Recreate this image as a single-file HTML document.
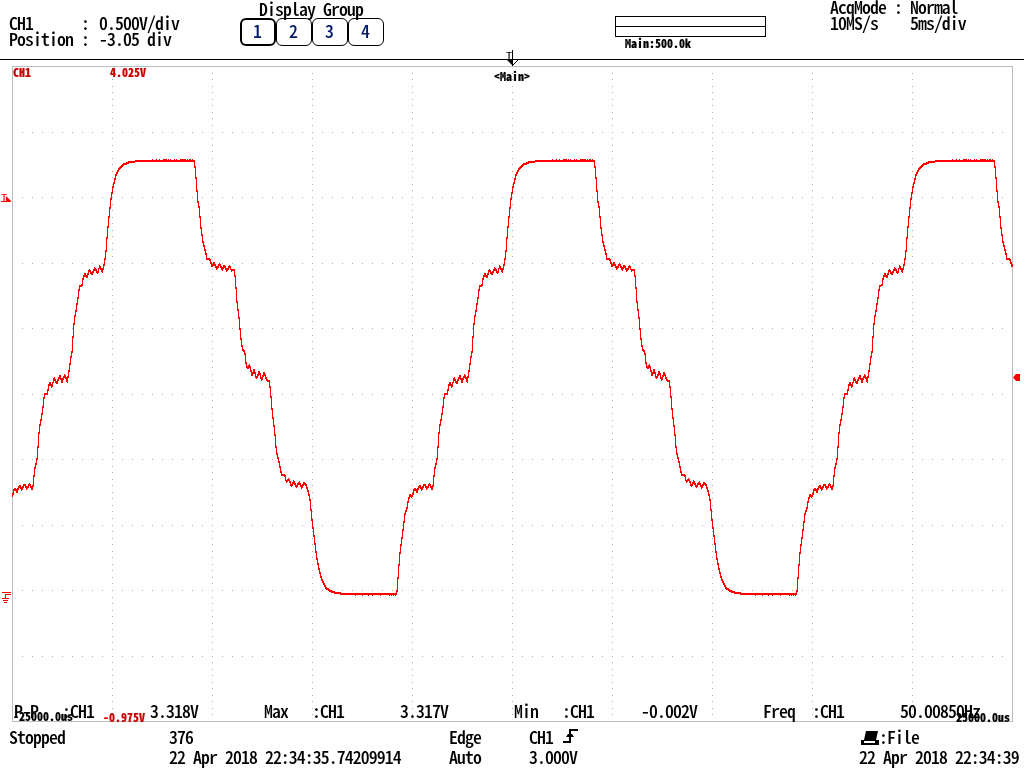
<!DOCTYPE html>
<html><head><meta charset="utf-8"><style>
html,body{margin:0;padding:0;background:#fff;width:1024px;height:768px;overflow:hidden;position:relative}
.b{position:absolute;white-space:pre;font-family:'Noto Sans CJK JP',sans-serif;font-feature-settings:'hwid' 1;font-size:17.8px;letter-spacing:-0.9px;line-height:16px;font-weight:500}
.s{position:absolute;white-space:pre;font-family:'Noto Sans CJK JP',sans-serif;font-feature-settings:'hwid' 1;font-size:12px;line-height:12px;font-weight:900}
.t{position:absolute;white-space:pre;font-family:'Noto Sans CJK JP',sans-serif;font-feature-settings:'hwid' 1;font-size:9.5px;line-height:10px;font-weight:400;transform:scaleX(1.3);transform-origin:0 0}
</style></head><body>
<svg width="1024" height="768" viewBox="0 0 1024 768" style="position:absolute;left:0;top:0">
<rect x="0" y="59" width="1024" height="1" fill="#000"/>
<rect x="12.5" y="66.5" width="1000" height="655" fill="none" stroke="#bcbcbc" stroke-width="1"/>
<path d="M22 132h1v1h-1zM22 197h1v1h-1zM22 263h1v1h-1zM22 328h1v1h-1zM22 394h1v1h-1zM22 459h1v1h-1zM22 525h1v1h-1zM22 590h1v1h-1zM22 656h1v1h-1zM32 132h1v1h-1zM32 197h1v1h-1zM32 263h1v1h-1zM32 328h1v1h-1zM32 394h1v1h-1zM32 459h1v1h-1zM32 525h1v1h-1zM32 590h1v1h-1zM32 656h1v1h-1zM42 132h1v1h-1zM42 197h1v1h-1zM42 263h1v1h-1zM42 328h1v1h-1zM42 394h1v1h-1zM42 459h1v1h-1zM42 525h1v1h-1zM42 590h1v1h-1zM42 656h1v1h-1zM52 132h1v1h-1zM52 197h1v1h-1zM52 263h1v1h-1zM52 328h1v1h-1zM52 394h1v1h-1zM52 459h1v1h-1zM52 525h1v1h-1zM52 590h1v1h-1zM52 656h1v1h-1zM62 132h1v1h-1zM62 197h1v1h-1zM62 263h1v1h-1zM62 328h1v1h-1zM62 394h1v1h-1zM62 459h1v1h-1zM62 525h1v1h-1zM62 590h1v1h-1zM62 656h1v1h-1zM72 132h1v1h-1zM72 197h1v1h-1zM72 263h1v1h-1zM72 328h1v1h-1zM72 394h1v1h-1zM72 459h1v1h-1zM72 525h1v1h-1zM72 590h1v1h-1zM72 656h1v1h-1zM82 132h1v1h-1zM82 197h1v1h-1zM82 263h1v1h-1zM82 328h1v1h-1zM82 394h1v1h-1zM82 459h1v1h-1zM82 525h1v1h-1zM82 590h1v1h-1zM82 656h1v1h-1zM92 132h1v1h-1zM92 197h1v1h-1zM92 263h1v1h-1zM92 328h1v1h-1zM92 394h1v1h-1zM92 459h1v1h-1zM92 525h1v1h-1zM92 590h1v1h-1zM92 656h1v1h-1zM102 132h1v1h-1zM102 197h1v1h-1zM102 263h1v1h-1zM102 328h1v1h-1zM102 394h1v1h-1zM102 459h1v1h-1zM102 525h1v1h-1zM102 590h1v1h-1zM102 656h1v1h-1zM112 73h1v1h-1zM112 79h1v1h-1zM112 86h1v1h-1zM112 92h1v1h-1zM112 99h1v1h-1zM112 105h1v1h-1zM112 112h1v1h-1zM112 118h1v1h-1zM112 125h1v1h-1zM112 132h1v1h-1zM112 138h1v1h-1zM112 145h1v1h-1zM112 151h1v1h-1zM112 158h1v1h-1zM112 164h1v1h-1zM112 171h1v1h-1zM112 177h1v1h-1zM112 184h1v1h-1zM112 190h1v1h-1zM112 197h1v1h-1zM112 204h1v1h-1zM112 210h1v1h-1zM112 217h1v1h-1zM112 223h1v1h-1zM112 230h1v1h-1zM112 236h1v1h-1zM112 243h1v1h-1zM112 249h1v1h-1zM112 256h1v1h-1zM112 263h1v1h-1zM112 269h1v1h-1zM112 276h1v1h-1zM112 282h1v1h-1zM112 289h1v1h-1zM112 295h1v1h-1zM112 302h1v1h-1zM112 308h1v1h-1zM112 315h1v1h-1zM112 321h1v1h-1zM112 328h1v1h-1zM112 335h1v1h-1zM112 341h1v1h-1zM112 348h1v1h-1zM112 354h1v1h-1zM112 361h1v1h-1zM112 367h1v1h-1zM112 374h1v1h-1zM112 380h1v1h-1zM112 387h1v1h-1zM112 394h1v1h-1zM112 400h1v1h-1zM112 407h1v1h-1zM112 413h1v1h-1zM112 420h1v1h-1zM112 426h1v1h-1zM112 433h1v1h-1zM112 439h1v1h-1zM112 446h1v1h-1zM112 452h1v1h-1zM112 459h1v1h-1zM112 466h1v1h-1zM112 472h1v1h-1zM112 479h1v1h-1zM112 485h1v1h-1zM112 492h1v1h-1zM112 498h1v1h-1zM112 505h1v1h-1zM112 511h1v1h-1zM112 518h1v1h-1zM112 525h1v1h-1zM112 531h1v1h-1zM112 538h1v1h-1zM112 544h1v1h-1zM112 551h1v1h-1zM112 557h1v1h-1zM112 564h1v1h-1zM112 570h1v1h-1zM112 577h1v1h-1zM112 583h1v1h-1zM112 590h1v1h-1zM112 597h1v1h-1zM112 603h1v1h-1zM112 610h1v1h-1zM112 616h1v1h-1zM112 623h1v1h-1zM112 629h1v1h-1zM112 636h1v1h-1zM112 642h1v1h-1zM112 649h1v1h-1zM112 656h1v1h-1zM112 662h1v1h-1zM112 669h1v1h-1zM112 675h1v1h-1zM112 682h1v1h-1zM112 688h1v1h-1zM112 695h1v1h-1zM112 701h1v1h-1zM112 708h1v1h-1zM112 714h1v1h-1zM122 132h1v1h-1zM122 197h1v1h-1zM122 263h1v1h-1zM122 328h1v1h-1zM122 394h1v1h-1zM122 459h1v1h-1zM122 525h1v1h-1zM122 590h1v1h-1zM122 656h1v1h-1zM132 132h1v1h-1zM132 197h1v1h-1zM132 263h1v1h-1zM132 328h1v1h-1zM132 394h1v1h-1zM132 459h1v1h-1zM132 525h1v1h-1zM132 590h1v1h-1zM132 656h1v1h-1zM142 132h1v1h-1zM142 197h1v1h-1zM142 263h1v1h-1zM142 328h1v1h-1zM142 394h1v1h-1zM142 459h1v1h-1zM142 525h1v1h-1zM142 590h1v1h-1zM142 656h1v1h-1zM152 132h1v1h-1zM152 197h1v1h-1zM152 263h1v1h-1zM152 328h1v1h-1zM152 394h1v1h-1zM152 459h1v1h-1zM152 525h1v1h-1zM152 590h1v1h-1zM152 656h1v1h-1zM162 132h1v1h-1zM162 197h1v1h-1zM162 263h1v1h-1zM162 328h1v1h-1zM162 394h1v1h-1zM162 459h1v1h-1zM162 525h1v1h-1zM162 590h1v1h-1zM162 656h1v1h-1zM172 132h1v1h-1zM172 197h1v1h-1zM172 263h1v1h-1zM172 328h1v1h-1zM172 394h1v1h-1zM172 459h1v1h-1zM172 525h1v1h-1zM172 590h1v1h-1zM172 656h1v1h-1zM182 132h1v1h-1zM182 197h1v1h-1zM182 263h1v1h-1zM182 328h1v1h-1zM182 394h1v1h-1zM182 459h1v1h-1zM182 525h1v1h-1zM182 590h1v1h-1zM182 656h1v1h-1zM192 132h1v1h-1zM192 197h1v1h-1zM192 263h1v1h-1zM192 328h1v1h-1zM192 394h1v1h-1zM192 459h1v1h-1zM192 525h1v1h-1zM192 590h1v1h-1zM192 656h1v1h-1zM202 132h1v1h-1zM202 197h1v1h-1zM202 263h1v1h-1zM202 328h1v1h-1zM202 394h1v1h-1zM202 459h1v1h-1zM202 525h1v1h-1zM202 590h1v1h-1zM202 656h1v1h-1zM212 73h1v1h-1zM212 79h1v1h-1zM212 86h1v1h-1zM212 92h1v1h-1zM212 99h1v1h-1zM212 105h1v1h-1zM212 112h1v1h-1zM212 118h1v1h-1zM212 125h1v1h-1zM212 132h1v1h-1zM212 138h1v1h-1zM212 145h1v1h-1zM212 151h1v1h-1zM212 158h1v1h-1zM212 164h1v1h-1zM212 171h1v1h-1zM212 177h1v1h-1zM212 184h1v1h-1zM212 190h1v1h-1zM212 197h1v1h-1zM212 204h1v1h-1zM212 210h1v1h-1zM212 217h1v1h-1zM212 223h1v1h-1zM212 230h1v1h-1zM212 236h1v1h-1zM212 243h1v1h-1zM212 249h1v1h-1zM212 256h1v1h-1zM212 263h1v1h-1zM212 269h1v1h-1zM212 276h1v1h-1zM212 282h1v1h-1zM212 289h1v1h-1zM212 295h1v1h-1zM212 302h1v1h-1zM212 308h1v1h-1zM212 315h1v1h-1zM212 321h1v1h-1zM212 328h1v1h-1zM212 335h1v1h-1zM212 341h1v1h-1zM212 348h1v1h-1zM212 354h1v1h-1zM212 361h1v1h-1zM212 367h1v1h-1zM212 374h1v1h-1zM212 380h1v1h-1zM212 387h1v1h-1zM212 394h1v1h-1zM212 400h1v1h-1zM212 407h1v1h-1zM212 413h1v1h-1zM212 420h1v1h-1zM212 426h1v1h-1zM212 433h1v1h-1zM212 439h1v1h-1zM212 446h1v1h-1zM212 452h1v1h-1zM212 459h1v1h-1zM212 466h1v1h-1zM212 472h1v1h-1zM212 479h1v1h-1zM212 485h1v1h-1zM212 492h1v1h-1zM212 498h1v1h-1zM212 505h1v1h-1zM212 511h1v1h-1zM212 518h1v1h-1zM212 525h1v1h-1zM212 531h1v1h-1zM212 538h1v1h-1zM212 544h1v1h-1zM212 551h1v1h-1zM212 557h1v1h-1zM212 564h1v1h-1zM212 570h1v1h-1zM212 577h1v1h-1zM212 583h1v1h-1zM212 590h1v1h-1zM212 597h1v1h-1zM212 603h1v1h-1zM212 610h1v1h-1zM212 616h1v1h-1zM212 623h1v1h-1zM212 629h1v1h-1zM212 636h1v1h-1zM212 642h1v1h-1zM212 649h1v1h-1zM212 656h1v1h-1zM212 662h1v1h-1zM212 669h1v1h-1zM212 675h1v1h-1zM212 682h1v1h-1zM212 688h1v1h-1zM212 695h1v1h-1zM212 701h1v1h-1zM212 708h1v1h-1zM212 714h1v1h-1zM222 132h1v1h-1zM222 197h1v1h-1zM222 263h1v1h-1zM222 328h1v1h-1zM222 394h1v1h-1zM222 459h1v1h-1zM222 525h1v1h-1zM222 590h1v1h-1zM222 656h1v1h-1zM232 132h1v1h-1zM232 197h1v1h-1zM232 263h1v1h-1zM232 328h1v1h-1zM232 394h1v1h-1zM232 459h1v1h-1zM232 525h1v1h-1zM232 590h1v1h-1zM232 656h1v1h-1zM242 132h1v1h-1zM242 197h1v1h-1zM242 263h1v1h-1zM242 328h1v1h-1zM242 394h1v1h-1zM242 459h1v1h-1zM242 525h1v1h-1zM242 590h1v1h-1zM242 656h1v1h-1zM252 132h1v1h-1zM252 197h1v1h-1zM252 263h1v1h-1zM252 328h1v1h-1zM252 394h1v1h-1zM252 459h1v1h-1zM252 525h1v1h-1zM252 590h1v1h-1zM252 656h1v1h-1zM262 132h1v1h-1zM262 197h1v1h-1zM262 263h1v1h-1zM262 328h1v1h-1zM262 394h1v1h-1zM262 459h1v1h-1zM262 525h1v1h-1zM262 590h1v1h-1zM262 656h1v1h-1zM272 132h1v1h-1zM272 197h1v1h-1zM272 263h1v1h-1zM272 328h1v1h-1zM272 394h1v1h-1zM272 459h1v1h-1zM272 525h1v1h-1zM272 590h1v1h-1zM272 656h1v1h-1zM282 132h1v1h-1zM282 197h1v1h-1zM282 263h1v1h-1zM282 328h1v1h-1zM282 394h1v1h-1zM282 459h1v1h-1zM282 525h1v1h-1zM282 590h1v1h-1zM282 656h1v1h-1zM292 132h1v1h-1zM292 197h1v1h-1zM292 263h1v1h-1zM292 328h1v1h-1zM292 394h1v1h-1zM292 459h1v1h-1zM292 525h1v1h-1zM292 590h1v1h-1zM292 656h1v1h-1zM302 132h1v1h-1zM302 197h1v1h-1zM302 263h1v1h-1zM302 328h1v1h-1zM302 394h1v1h-1zM302 459h1v1h-1zM302 525h1v1h-1zM302 590h1v1h-1zM302 656h1v1h-1zM312 73h1v1h-1zM312 79h1v1h-1zM312 86h1v1h-1zM312 92h1v1h-1zM312 99h1v1h-1zM312 105h1v1h-1zM312 112h1v1h-1zM312 118h1v1h-1zM312 125h1v1h-1zM312 132h1v1h-1zM312 138h1v1h-1zM312 145h1v1h-1zM312 151h1v1h-1zM312 158h1v1h-1zM312 164h1v1h-1zM312 171h1v1h-1zM312 177h1v1h-1zM312 184h1v1h-1zM312 190h1v1h-1zM312 197h1v1h-1zM312 204h1v1h-1zM312 210h1v1h-1zM312 217h1v1h-1zM312 223h1v1h-1zM312 230h1v1h-1zM312 236h1v1h-1zM312 243h1v1h-1zM312 249h1v1h-1zM312 256h1v1h-1zM312 263h1v1h-1zM312 269h1v1h-1zM312 276h1v1h-1zM312 282h1v1h-1zM312 289h1v1h-1zM312 295h1v1h-1zM312 302h1v1h-1zM312 308h1v1h-1zM312 315h1v1h-1zM312 321h1v1h-1zM312 328h1v1h-1zM312 335h1v1h-1zM312 341h1v1h-1zM312 348h1v1h-1zM312 354h1v1h-1zM312 361h1v1h-1zM312 367h1v1h-1zM312 374h1v1h-1zM312 380h1v1h-1zM312 387h1v1h-1zM312 394h1v1h-1zM312 400h1v1h-1zM312 407h1v1h-1zM312 413h1v1h-1zM312 420h1v1h-1zM312 426h1v1h-1zM312 433h1v1h-1zM312 439h1v1h-1zM312 446h1v1h-1zM312 452h1v1h-1zM312 459h1v1h-1zM312 466h1v1h-1zM312 472h1v1h-1zM312 479h1v1h-1zM312 485h1v1h-1zM312 492h1v1h-1zM312 498h1v1h-1zM312 505h1v1h-1zM312 511h1v1h-1zM312 518h1v1h-1zM312 525h1v1h-1zM312 531h1v1h-1zM312 538h1v1h-1zM312 544h1v1h-1zM312 551h1v1h-1zM312 557h1v1h-1zM312 564h1v1h-1zM312 570h1v1h-1zM312 577h1v1h-1zM312 583h1v1h-1zM312 590h1v1h-1zM312 597h1v1h-1zM312 603h1v1h-1zM312 610h1v1h-1zM312 616h1v1h-1zM312 623h1v1h-1zM312 629h1v1h-1zM312 636h1v1h-1zM312 642h1v1h-1zM312 649h1v1h-1zM312 656h1v1h-1zM312 662h1v1h-1zM312 669h1v1h-1zM312 675h1v1h-1zM312 682h1v1h-1zM312 688h1v1h-1zM312 695h1v1h-1zM312 701h1v1h-1zM312 708h1v1h-1zM312 714h1v1h-1zM322 132h1v1h-1zM322 197h1v1h-1zM322 263h1v1h-1zM322 328h1v1h-1zM322 394h1v1h-1zM322 459h1v1h-1zM322 525h1v1h-1zM322 590h1v1h-1zM322 656h1v1h-1zM332 132h1v1h-1zM332 197h1v1h-1zM332 263h1v1h-1zM332 328h1v1h-1zM332 394h1v1h-1zM332 459h1v1h-1zM332 525h1v1h-1zM332 590h1v1h-1zM332 656h1v1h-1zM342 132h1v1h-1zM342 197h1v1h-1zM342 263h1v1h-1zM342 328h1v1h-1zM342 394h1v1h-1zM342 459h1v1h-1zM342 525h1v1h-1zM342 590h1v1h-1zM342 656h1v1h-1zM352 132h1v1h-1zM352 197h1v1h-1zM352 263h1v1h-1zM352 328h1v1h-1zM352 394h1v1h-1zM352 459h1v1h-1zM352 525h1v1h-1zM352 590h1v1h-1zM352 656h1v1h-1zM362 132h1v1h-1zM362 197h1v1h-1zM362 263h1v1h-1zM362 328h1v1h-1zM362 394h1v1h-1zM362 459h1v1h-1zM362 525h1v1h-1zM362 590h1v1h-1zM362 656h1v1h-1zM372 132h1v1h-1zM372 197h1v1h-1zM372 263h1v1h-1zM372 328h1v1h-1zM372 394h1v1h-1zM372 459h1v1h-1zM372 525h1v1h-1zM372 590h1v1h-1zM372 656h1v1h-1zM382 132h1v1h-1zM382 197h1v1h-1zM382 263h1v1h-1zM382 328h1v1h-1zM382 394h1v1h-1zM382 459h1v1h-1zM382 525h1v1h-1zM382 590h1v1h-1zM382 656h1v1h-1zM392 132h1v1h-1zM392 197h1v1h-1zM392 263h1v1h-1zM392 328h1v1h-1zM392 394h1v1h-1zM392 459h1v1h-1zM392 525h1v1h-1zM392 590h1v1h-1zM392 656h1v1h-1zM402 132h1v1h-1zM402 197h1v1h-1zM402 263h1v1h-1zM402 328h1v1h-1zM402 394h1v1h-1zM402 459h1v1h-1zM402 525h1v1h-1zM402 590h1v1h-1zM402 656h1v1h-1zM412 73h1v1h-1zM412 79h1v1h-1zM412 86h1v1h-1zM412 92h1v1h-1zM412 99h1v1h-1zM412 105h1v1h-1zM412 112h1v1h-1zM412 118h1v1h-1zM412 125h1v1h-1zM412 132h1v1h-1zM412 138h1v1h-1zM412 145h1v1h-1zM412 151h1v1h-1zM412 158h1v1h-1zM412 164h1v1h-1zM412 171h1v1h-1zM412 177h1v1h-1zM412 184h1v1h-1zM412 190h1v1h-1zM412 197h1v1h-1zM412 204h1v1h-1zM412 210h1v1h-1zM412 217h1v1h-1zM412 223h1v1h-1zM412 230h1v1h-1zM412 236h1v1h-1zM412 243h1v1h-1zM412 249h1v1h-1zM412 256h1v1h-1zM412 263h1v1h-1zM412 269h1v1h-1zM412 276h1v1h-1zM412 282h1v1h-1zM412 289h1v1h-1zM412 295h1v1h-1zM412 302h1v1h-1zM412 308h1v1h-1zM412 315h1v1h-1zM412 321h1v1h-1zM412 328h1v1h-1zM412 335h1v1h-1zM412 341h1v1h-1zM412 348h1v1h-1zM412 354h1v1h-1zM412 361h1v1h-1zM412 367h1v1h-1zM412 374h1v1h-1zM412 380h1v1h-1zM412 387h1v1h-1zM412 394h1v1h-1zM412 400h1v1h-1zM412 407h1v1h-1zM412 413h1v1h-1zM412 420h1v1h-1zM412 426h1v1h-1zM412 433h1v1h-1zM412 439h1v1h-1zM412 446h1v1h-1zM412 452h1v1h-1zM412 459h1v1h-1zM412 466h1v1h-1zM412 472h1v1h-1zM412 479h1v1h-1zM412 485h1v1h-1zM412 492h1v1h-1zM412 498h1v1h-1zM412 505h1v1h-1zM412 511h1v1h-1zM412 518h1v1h-1zM412 525h1v1h-1zM412 531h1v1h-1zM412 538h1v1h-1zM412 544h1v1h-1zM412 551h1v1h-1zM412 557h1v1h-1zM412 564h1v1h-1zM412 570h1v1h-1zM412 577h1v1h-1zM412 583h1v1h-1zM412 590h1v1h-1zM412 597h1v1h-1zM412 603h1v1h-1zM412 610h1v1h-1zM412 616h1v1h-1zM412 623h1v1h-1zM412 629h1v1h-1zM412 636h1v1h-1zM412 642h1v1h-1zM412 649h1v1h-1zM412 656h1v1h-1zM412 662h1v1h-1zM412 669h1v1h-1zM412 675h1v1h-1zM412 682h1v1h-1zM412 688h1v1h-1zM412 695h1v1h-1zM412 701h1v1h-1zM412 708h1v1h-1zM412 714h1v1h-1zM422 132h1v1h-1zM422 197h1v1h-1zM422 263h1v1h-1zM422 328h1v1h-1zM422 394h1v1h-1zM422 459h1v1h-1zM422 525h1v1h-1zM422 590h1v1h-1zM422 656h1v1h-1zM432 132h1v1h-1zM432 197h1v1h-1zM432 263h1v1h-1zM432 328h1v1h-1zM432 394h1v1h-1zM432 459h1v1h-1zM432 525h1v1h-1zM432 590h1v1h-1zM432 656h1v1h-1zM442 132h1v1h-1zM442 197h1v1h-1zM442 263h1v1h-1zM442 328h1v1h-1zM442 394h1v1h-1zM442 459h1v1h-1zM442 525h1v1h-1zM442 590h1v1h-1zM442 656h1v1h-1zM452 132h1v1h-1zM452 197h1v1h-1zM452 263h1v1h-1zM452 328h1v1h-1zM452 394h1v1h-1zM452 459h1v1h-1zM452 525h1v1h-1zM452 590h1v1h-1zM452 656h1v1h-1zM462 132h1v1h-1zM462 197h1v1h-1zM462 263h1v1h-1zM462 328h1v1h-1zM462 394h1v1h-1zM462 459h1v1h-1zM462 525h1v1h-1zM462 590h1v1h-1zM462 656h1v1h-1zM472 132h1v1h-1zM472 197h1v1h-1zM472 263h1v1h-1zM472 328h1v1h-1zM472 394h1v1h-1zM472 459h1v1h-1zM472 525h1v1h-1zM472 590h1v1h-1zM472 656h1v1h-1zM482 132h1v1h-1zM482 197h1v1h-1zM482 263h1v1h-1zM482 328h1v1h-1zM482 394h1v1h-1zM482 459h1v1h-1zM482 525h1v1h-1zM482 590h1v1h-1zM482 656h1v1h-1zM492 132h1v1h-1zM492 197h1v1h-1zM492 263h1v1h-1zM492 328h1v1h-1zM492 394h1v1h-1zM492 459h1v1h-1zM492 525h1v1h-1zM492 590h1v1h-1zM492 656h1v1h-1zM502 132h1v1h-1zM502 197h1v1h-1zM502 263h1v1h-1zM502 328h1v1h-1zM502 394h1v1h-1zM502 459h1v1h-1zM502 525h1v1h-1zM502 590h1v1h-1zM502 656h1v1h-1zM512 73h1v1h-1zM512 79h1v1h-1zM512 86h1v1h-1zM512 92h1v1h-1zM512 99h1v1h-1zM512 105h1v1h-1zM512 112h1v1h-1zM512 118h1v1h-1zM512 125h1v1h-1zM512 132h1v1h-1zM512 138h1v1h-1zM512 145h1v1h-1zM512 151h1v1h-1zM512 158h1v1h-1zM512 164h1v1h-1zM512 171h1v1h-1zM512 177h1v1h-1zM512 184h1v1h-1zM512 190h1v1h-1zM512 197h1v1h-1zM512 204h1v1h-1zM512 210h1v1h-1zM512 217h1v1h-1zM512 223h1v1h-1zM512 230h1v1h-1zM512 236h1v1h-1zM512 243h1v1h-1zM512 249h1v1h-1zM512 256h1v1h-1zM512 263h1v1h-1zM512 269h1v1h-1zM512 276h1v1h-1zM512 282h1v1h-1zM512 289h1v1h-1zM512 295h1v1h-1zM512 302h1v1h-1zM512 308h1v1h-1zM512 315h1v1h-1zM512 321h1v1h-1zM512 328h1v1h-1zM512 335h1v1h-1zM512 341h1v1h-1zM512 348h1v1h-1zM512 354h1v1h-1zM512 361h1v1h-1zM512 367h1v1h-1zM512 374h1v1h-1zM512 380h1v1h-1zM512 387h1v1h-1zM512 394h1v1h-1zM512 400h1v1h-1zM512 407h1v1h-1zM512 413h1v1h-1zM512 420h1v1h-1zM512 426h1v1h-1zM512 433h1v1h-1zM512 439h1v1h-1zM512 446h1v1h-1zM512 452h1v1h-1zM512 459h1v1h-1zM512 466h1v1h-1zM512 472h1v1h-1zM512 479h1v1h-1zM512 485h1v1h-1zM512 492h1v1h-1zM512 498h1v1h-1zM512 505h1v1h-1zM512 511h1v1h-1zM512 518h1v1h-1zM512 525h1v1h-1zM512 531h1v1h-1zM512 538h1v1h-1zM512 544h1v1h-1zM512 551h1v1h-1zM512 557h1v1h-1zM512 564h1v1h-1zM512 570h1v1h-1zM512 577h1v1h-1zM512 583h1v1h-1zM512 590h1v1h-1zM512 597h1v1h-1zM512 603h1v1h-1zM512 610h1v1h-1zM512 616h1v1h-1zM512 623h1v1h-1zM512 629h1v1h-1zM512 636h1v1h-1zM512 642h1v1h-1zM512 649h1v1h-1zM512 656h1v1h-1zM512 662h1v1h-1zM512 669h1v1h-1zM512 675h1v1h-1zM512 682h1v1h-1zM512 688h1v1h-1zM512 695h1v1h-1zM512 701h1v1h-1zM512 708h1v1h-1zM512 714h1v1h-1zM522 132h1v1h-1zM522 197h1v1h-1zM522 263h1v1h-1zM522 328h1v1h-1zM522 394h1v1h-1zM522 459h1v1h-1zM522 525h1v1h-1zM522 590h1v1h-1zM522 656h1v1h-1zM532 132h1v1h-1zM532 197h1v1h-1zM532 263h1v1h-1zM532 328h1v1h-1zM532 394h1v1h-1zM532 459h1v1h-1zM532 525h1v1h-1zM532 590h1v1h-1zM532 656h1v1h-1zM542 132h1v1h-1zM542 197h1v1h-1zM542 263h1v1h-1zM542 328h1v1h-1zM542 394h1v1h-1zM542 459h1v1h-1zM542 525h1v1h-1zM542 590h1v1h-1zM542 656h1v1h-1zM552 132h1v1h-1zM552 197h1v1h-1zM552 263h1v1h-1zM552 328h1v1h-1zM552 394h1v1h-1zM552 459h1v1h-1zM552 525h1v1h-1zM552 590h1v1h-1zM552 656h1v1h-1zM562 132h1v1h-1zM562 197h1v1h-1zM562 263h1v1h-1zM562 328h1v1h-1zM562 394h1v1h-1zM562 459h1v1h-1zM562 525h1v1h-1zM562 590h1v1h-1zM562 656h1v1h-1zM572 132h1v1h-1zM572 197h1v1h-1zM572 263h1v1h-1zM572 328h1v1h-1zM572 394h1v1h-1zM572 459h1v1h-1zM572 525h1v1h-1zM572 590h1v1h-1zM572 656h1v1h-1zM582 132h1v1h-1zM582 197h1v1h-1zM582 263h1v1h-1zM582 328h1v1h-1zM582 394h1v1h-1zM582 459h1v1h-1zM582 525h1v1h-1zM582 590h1v1h-1zM582 656h1v1h-1zM592 132h1v1h-1zM592 197h1v1h-1zM592 263h1v1h-1zM592 328h1v1h-1zM592 394h1v1h-1zM592 459h1v1h-1zM592 525h1v1h-1zM592 590h1v1h-1zM592 656h1v1h-1zM602 132h1v1h-1zM602 197h1v1h-1zM602 263h1v1h-1zM602 328h1v1h-1zM602 394h1v1h-1zM602 459h1v1h-1zM602 525h1v1h-1zM602 590h1v1h-1zM602 656h1v1h-1zM612 73h1v1h-1zM612 79h1v1h-1zM612 86h1v1h-1zM612 92h1v1h-1zM612 99h1v1h-1zM612 105h1v1h-1zM612 112h1v1h-1zM612 118h1v1h-1zM612 125h1v1h-1zM612 132h1v1h-1zM612 138h1v1h-1zM612 145h1v1h-1zM612 151h1v1h-1zM612 158h1v1h-1zM612 164h1v1h-1zM612 171h1v1h-1zM612 177h1v1h-1zM612 184h1v1h-1zM612 190h1v1h-1zM612 197h1v1h-1zM612 204h1v1h-1zM612 210h1v1h-1zM612 217h1v1h-1zM612 223h1v1h-1zM612 230h1v1h-1zM612 236h1v1h-1zM612 243h1v1h-1zM612 249h1v1h-1zM612 256h1v1h-1zM612 263h1v1h-1zM612 269h1v1h-1zM612 276h1v1h-1zM612 282h1v1h-1zM612 289h1v1h-1zM612 295h1v1h-1zM612 302h1v1h-1zM612 308h1v1h-1zM612 315h1v1h-1zM612 321h1v1h-1zM612 328h1v1h-1zM612 335h1v1h-1zM612 341h1v1h-1zM612 348h1v1h-1zM612 354h1v1h-1zM612 361h1v1h-1zM612 367h1v1h-1zM612 374h1v1h-1zM612 380h1v1h-1zM612 387h1v1h-1zM612 394h1v1h-1zM612 400h1v1h-1zM612 407h1v1h-1zM612 413h1v1h-1zM612 420h1v1h-1zM612 426h1v1h-1zM612 433h1v1h-1zM612 439h1v1h-1zM612 446h1v1h-1zM612 452h1v1h-1zM612 459h1v1h-1zM612 466h1v1h-1zM612 472h1v1h-1zM612 479h1v1h-1zM612 485h1v1h-1zM612 492h1v1h-1zM612 498h1v1h-1zM612 505h1v1h-1zM612 511h1v1h-1zM612 518h1v1h-1zM612 525h1v1h-1zM612 531h1v1h-1zM612 538h1v1h-1zM612 544h1v1h-1zM612 551h1v1h-1zM612 557h1v1h-1zM612 564h1v1h-1zM612 570h1v1h-1zM612 577h1v1h-1zM612 583h1v1h-1zM612 590h1v1h-1zM612 597h1v1h-1zM612 603h1v1h-1zM612 610h1v1h-1zM612 616h1v1h-1zM612 623h1v1h-1zM612 629h1v1h-1zM612 636h1v1h-1zM612 642h1v1h-1zM612 649h1v1h-1zM612 656h1v1h-1zM612 662h1v1h-1zM612 669h1v1h-1zM612 675h1v1h-1zM612 682h1v1h-1zM612 688h1v1h-1zM612 695h1v1h-1zM612 701h1v1h-1zM612 708h1v1h-1zM612 714h1v1h-1zM622 132h1v1h-1zM622 197h1v1h-1zM622 263h1v1h-1zM622 328h1v1h-1zM622 394h1v1h-1zM622 459h1v1h-1zM622 525h1v1h-1zM622 590h1v1h-1zM622 656h1v1h-1zM632 132h1v1h-1zM632 197h1v1h-1zM632 263h1v1h-1zM632 328h1v1h-1zM632 394h1v1h-1zM632 459h1v1h-1zM632 525h1v1h-1zM632 590h1v1h-1zM632 656h1v1h-1zM642 132h1v1h-1zM642 197h1v1h-1zM642 263h1v1h-1zM642 328h1v1h-1zM642 394h1v1h-1zM642 459h1v1h-1zM642 525h1v1h-1zM642 590h1v1h-1zM642 656h1v1h-1zM652 132h1v1h-1zM652 197h1v1h-1zM652 263h1v1h-1zM652 328h1v1h-1zM652 394h1v1h-1zM652 459h1v1h-1zM652 525h1v1h-1zM652 590h1v1h-1zM652 656h1v1h-1zM662 132h1v1h-1zM662 197h1v1h-1zM662 263h1v1h-1zM662 328h1v1h-1zM662 394h1v1h-1zM662 459h1v1h-1zM662 525h1v1h-1zM662 590h1v1h-1zM662 656h1v1h-1zM672 132h1v1h-1zM672 197h1v1h-1zM672 263h1v1h-1zM672 328h1v1h-1zM672 394h1v1h-1zM672 459h1v1h-1zM672 525h1v1h-1zM672 590h1v1h-1zM672 656h1v1h-1zM682 132h1v1h-1zM682 197h1v1h-1zM682 263h1v1h-1zM682 328h1v1h-1zM682 394h1v1h-1zM682 459h1v1h-1zM682 525h1v1h-1zM682 590h1v1h-1zM682 656h1v1h-1zM692 132h1v1h-1zM692 197h1v1h-1zM692 263h1v1h-1zM692 328h1v1h-1zM692 394h1v1h-1zM692 459h1v1h-1zM692 525h1v1h-1zM692 590h1v1h-1zM692 656h1v1h-1zM702 132h1v1h-1zM702 197h1v1h-1zM702 263h1v1h-1zM702 328h1v1h-1zM702 394h1v1h-1zM702 459h1v1h-1zM702 525h1v1h-1zM702 590h1v1h-1zM702 656h1v1h-1zM712 73h1v1h-1zM712 79h1v1h-1zM712 86h1v1h-1zM712 92h1v1h-1zM712 99h1v1h-1zM712 105h1v1h-1zM712 112h1v1h-1zM712 118h1v1h-1zM712 125h1v1h-1zM712 132h1v1h-1zM712 138h1v1h-1zM712 145h1v1h-1zM712 151h1v1h-1zM712 158h1v1h-1zM712 164h1v1h-1zM712 171h1v1h-1zM712 177h1v1h-1zM712 184h1v1h-1zM712 190h1v1h-1zM712 197h1v1h-1zM712 204h1v1h-1zM712 210h1v1h-1zM712 217h1v1h-1zM712 223h1v1h-1zM712 230h1v1h-1zM712 236h1v1h-1zM712 243h1v1h-1zM712 249h1v1h-1zM712 256h1v1h-1zM712 263h1v1h-1zM712 269h1v1h-1zM712 276h1v1h-1zM712 282h1v1h-1zM712 289h1v1h-1zM712 295h1v1h-1zM712 302h1v1h-1zM712 308h1v1h-1zM712 315h1v1h-1zM712 321h1v1h-1zM712 328h1v1h-1zM712 335h1v1h-1zM712 341h1v1h-1zM712 348h1v1h-1zM712 354h1v1h-1zM712 361h1v1h-1zM712 367h1v1h-1zM712 374h1v1h-1zM712 380h1v1h-1zM712 387h1v1h-1zM712 394h1v1h-1zM712 400h1v1h-1zM712 407h1v1h-1zM712 413h1v1h-1zM712 420h1v1h-1zM712 426h1v1h-1zM712 433h1v1h-1zM712 439h1v1h-1zM712 446h1v1h-1zM712 452h1v1h-1zM712 459h1v1h-1zM712 466h1v1h-1zM712 472h1v1h-1zM712 479h1v1h-1zM712 485h1v1h-1zM712 492h1v1h-1zM712 498h1v1h-1zM712 505h1v1h-1zM712 511h1v1h-1zM712 518h1v1h-1zM712 525h1v1h-1zM712 531h1v1h-1zM712 538h1v1h-1zM712 544h1v1h-1zM712 551h1v1h-1zM712 557h1v1h-1zM712 564h1v1h-1zM712 570h1v1h-1zM712 577h1v1h-1zM712 583h1v1h-1zM712 590h1v1h-1zM712 597h1v1h-1zM712 603h1v1h-1zM712 610h1v1h-1zM712 616h1v1h-1zM712 623h1v1h-1zM712 629h1v1h-1zM712 636h1v1h-1zM712 642h1v1h-1zM712 649h1v1h-1zM712 656h1v1h-1zM712 662h1v1h-1zM712 669h1v1h-1zM712 675h1v1h-1zM712 682h1v1h-1zM712 688h1v1h-1zM712 695h1v1h-1zM712 701h1v1h-1zM712 708h1v1h-1zM712 714h1v1h-1zM722 132h1v1h-1zM722 197h1v1h-1zM722 263h1v1h-1zM722 328h1v1h-1zM722 394h1v1h-1zM722 459h1v1h-1zM722 525h1v1h-1zM722 590h1v1h-1zM722 656h1v1h-1zM732 132h1v1h-1zM732 197h1v1h-1zM732 263h1v1h-1zM732 328h1v1h-1zM732 394h1v1h-1zM732 459h1v1h-1zM732 525h1v1h-1zM732 590h1v1h-1zM732 656h1v1h-1zM742 132h1v1h-1zM742 197h1v1h-1zM742 263h1v1h-1zM742 328h1v1h-1zM742 394h1v1h-1zM742 459h1v1h-1zM742 525h1v1h-1zM742 590h1v1h-1zM742 656h1v1h-1zM752 132h1v1h-1zM752 197h1v1h-1zM752 263h1v1h-1zM752 328h1v1h-1zM752 394h1v1h-1zM752 459h1v1h-1zM752 525h1v1h-1zM752 590h1v1h-1zM752 656h1v1h-1zM762 132h1v1h-1zM762 197h1v1h-1zM762 263h1v1h-1zM762 328h1v1h-1zM762 394h1v1h-1zM762 459h1v1h-1zM762 525h1v1h-1zM762 590h1v1h-1zM762 656h1v1h-1zM772 132h1v1h-1zM772 197h1v1h-1zM772 263h1v1h-1zM772 328h1v1h-1zM772 394h1v1h-1zM772 459h1v1h-1zM772 525h1v1h-1zM772 590h1v1h-1zM772 656h1v1h-1zM782 132h1v1h-1zM782 197h1v1h-1zM782 263h1v1h-1zM782 328h1v1h-1zM782 394h1v1h-1zM782 459h1v1h-1zM782 525h1v1h-1zM782 590h1v1h-1zM782 656h1v1h-1zM792 132h1v1h-1zM792 197h1v1h-1zM792 263h1v1h-1zM792 328h1v1h-1zM792 394h1v1h-1zM792 459h1v1h-1zM792 525h1v1h-1zM792 590h1v1h-1zM792 656h1v1h-1zM802 132h1v1h-1zM802 197h1v1h-1zM802 263h1v1h-1zM802 328h1v1h-1zM802 394h1v1h-1zM802 459h1v1h-1zM802 525h1v1h-1zM802 590h1v1h-1zM802 656h1v1h-1zM812 73h1v1h-1zM812 79h1v1h-1zM812 86h1v1h-1zM812 92h1v1h-1zM812 99h1v1h-1zM812 105h1v1h-1zM812 112h1v1h-1zM812 118h1v1h-1zM812 125h1v1h-1zM812 132h1v1h-1zM812 138h1v1h-1zM812 145h1v1h-1zM812 151h1v1h-1zM812 158h1v1h-1zM812 164h1v1h-1zM812 171h1v1h-1zM812 177h1v1h-1zM812 184h1v1h-1zM812 190h1v1h-1zM812 197h1v1h-1zM812 204h1v1h-1zM812 210h1v1h-1zM812 217h1v1h-1zM812 223h1v1h-1zM812 230h1v1h-1zM812 236h1v1h-1zM812 243h1v1h-1zM812 249h1v1h-1zM812 256h1v1h-1zM812 263h1v1h-1zM812 269h1v1h-1zM812 276h1v1h-1zM812 282h1v1h-1zM812 289h1v1h-1zM812 295h1v1h-1zM812 302h1v1h-1zM812 308h1v1h-1zM812 315h1v1h-1zM812 321h1v1h-1zM812 328h1v1h-1zM812 335h1v1h-1zM812 341h1v1h-1zM812 348h1v1h-1zM812 354h1v1h-1zM812 361h1v1h-1zM812 367h1v1h-1zM812 374h1v1h-1zM812 380h1v1h-1zM812 387h1v1h-1zM812 394h1v1h-1zM812 400h1v1h-1zM812 407h1v1h-1zM812 413h1v1h-1zM812 420h1v1h-1zM812 426h1v1h-1zM812 433h1v1h-1zM812 439h1v1h-1zM812 446h1v1h-1zM812 452h1v1h-1zM812 459h1v1h-1zM812 466h1v1h-1zM812 472h1v1h-1zM812 479h1v1h-1zM812 485h1v1h-1zM812 492h1v1h-1zM812 498h1v1h-1zM812 505h1v1h-1zM812 511h1v1h-1zM812 518h1v1h-1zM812 525h1v1h-1zM812 531h1v1h-1zM812 538h1v1h-1zM812 544h1v1h-1zM812 551h1v1h-1zM812 557h1v1h-1zM812 564h1v1h-1zM812 570h1v1h-1zM812 577h1v1h-1zM812 583h1v1h-1zM812 590h1v1h-1zM812 597h1v1h-1zM812 603h1v1h-1zM812 610h1v1h-1zM812 616h1v1h-1zM812 623h1v1h-1zM812 629h1v1h-1zM812 636h1v1h-1zM812 642h1v1h-1zM812 649h1v1h-1zM812 656h1v1h-1zM812 662h1v1h-1zM812 669h1v1h-1zM812 675h1v1h-1zM812 682h1v1h-1zM812 688h1v1h-1zM812 695h1v1h-1zM812 701h1v1h-1zM812 708h1v1h-1zM812 714h1v1h-1zM822 132h1v1h-1zM822 197h1v1h-1zM822 263h1v1h-1zM822 328h1v1h-1zM822 394h1v1h-1zM822 459h1v1h-1zM822 525h1v1h-1zM822 590h1v1h-1zM822 656h1v1h-1zM832 132h1v1h-1zM832 197h1v1h-1zM832 263h1v1h-1zM832 328h1v1h-1zM832 394h1v1h-1zM832 459h1v1h-1zM832 525h1v1h-1zM832 590h1v1h-1zM832 656h1v1h-1zM842 132h1v1h-1zM842 197h1v1h-1zM842 263h1v1h-1zM842 328h1v1h-1zM842 394h1v1h-1zM842 459h1v1h-1zM842 525h1v1h-1zM842 590h1v1h-1zM842 656h1v1h-1zM852 132h1v1h-1zM852 197h1v1h-1zM852 263h1v1h-1zM852 328h1v1h-1zM852 394h1v1h-1zM852 459h1v1h-1zM852 525h1v1h-1zM852 590h1v1h-1zM852 656h1v1h-1zM862 132h1v1h-1zM862 197h1v1h-1zM862 263h1v1h-1zM862 328h1v1h-1zM862 394h1v1h-1zM862 459h1v1h-1zM862 525h1v1h-1zM862 590h1v1h-1zM862 656h1v1h-1zM872 132h1v1h-1zM872 197h1v1h-1zM872 263h1v1h-1zM872 328h1v1h-1zM872 394h1v1h-1zM872 459h1v1h-1zM872 525h1v1h-1zM872 590h1v1h-1zM872 656h1v1h-1zM882 132h1v1h-1zM882 197h1v1h-1zM882 263h1v1h-1zM882 328h1v1h-1zM882 394h1v1h-1zM882 459h1v1h-1zM882 525h1v1h-1zM882 590h1v1h-1zM882 656h1v1h-1zM892 132h1v1h-1zM892 197h1v1h-1zM892 263h1v1h-1zM892 328h1v1h-1zM892 394h1v1h-1zM892 459h1v1h-1zM892 525h1v1h-1zM892 590h1v1h-1zM892 656h1v1h-1zM902 132h1v1h-1zM902 197h1v1h-1zM902 263h1v1h-1zM902 328h1v1h-1zM902 394h1v1h-1zM902 459h1v1h-1zM902 525h1v1h-1zM902 590h1v1h-1zM902 656h1v1h-1zM912 73h1v1h-1zM912 79h1v1h-1zM912 86h1v1h-1zM912 92h1v1h-1zM912 99h1v1h-1zM912 105h1v1h-1zM912 112h1v1h-1zM912 118h1v1h-1zM912 125h1v1h-1zM912 132h1v1h-1zM912 138h1v1h-1zM912 145h1v1h-1zM912 151h1v1h-1zM912 158h1v1h-1zM912 164h1v1h-1zM912 171h1v1h-1zM912 177h1v1h-1zM912 184h1v1h-1zM912 190h1v1h-1zM912 197h1v1h-1zM912 204h1v1h-1zM912 210h1v1h-1zM912 217h1v1h-1zM912 223h1v1h-1zM912 230h1v1h-1zM912 236h1v1h-1zM912 243h1v1h-1zM912 249h1v1h-1zM912 256h1v1h-1zM912 263h1v1h-1zM912 269h1v1h-1zM912 276h1v1h-1zM912 282h1v1h-1zM912 289h1v1h-1zM912 295h1v1h-1zM912 302h1v1h-1zM912 308h1v1h-1zM912 315h1v1h-1zM912 321h1v1h-1zM912 328h1v1h-1zM912 335h1v1h-1zM912 341h1v1h-1zM912 348h1v1h-1zM912 354h1v1h-1zM912 361h1v1h-1zM912 367h1v1h-1zM912 374h1v1h-1zM912 380h1v1h-1zM912 387h1v1h-1zM912 394h1v1h-1zM912 400h1v1h-1zM912 407h1v1h-1zM912 413h1v1h-1zM912 420h1v1h-1zM912 426h1v1h-1zM912 433h1v1h-1zM912 439h1v1h-1zM912 446h1v1h-1zM912 452h1v1h-1zM912 459h1v1h-1zM912 466h1v1h-1zM912 472h1v1h-1zM912 479h1v1h-1zM912 485h1v1h-1zM912 492h1v1h-1zM912 498h1v1h-1zM912 505h1v1h-1zM912 511h1v1h-1zM912 518h1v1h-1zM912 525h1v1h-1zM912 531h1v1h-1zM912 538h1v1h-1zM912 544h1v1h-1zM912 551h1v1h-1zM912 557h1v1h-1zM912 564h1v1h-1zM912 570h1v1h-1zM912 577h1v1h-1zM912 583h1v1h-1zM912 590h1v1h-1zM912 597h1v1h-1zM912 603h1v1h-1zM912 610h1v1h-1zM912 616h1v1h-1zM912 623h1v1h-1zM912 629h1v1h-1zM912 636h1v1h-1zM912 642h1v1h-1zM912 649h1v1h-1zM912 656h1v1h-1zM912 662h1v1h-1zM912 669h1v1h-1zM912 675h1v1h-1zM912 682h1v1h-1zM912 688h1v1h-1zM912 695h1v1h-1zM912 701h1v1h-1zM912 708h1v1h-1zM912 714h1v1h-1zM922 132h1v1h-1zM922 197h1v1h-1zM922 263h1v1h-1zM922 328h1v1h-1zM922 394h1v1h-1zM922 459h1v1h-1zM922 525h1v1h-1zM922 590h1v1h-1zM922 656h1v1h-1zM932 132h1v1h-1zM932 197h1v1h-1zM932 263h1v1h-1zM932 328h1v1h-1zM932 394h1v1h-1zM932 459h1v1h-1zM932 525h1v1h-1zM932 590h1v1h-1zM932 656h1v1h-1zM942 132h1v1h-1zM942 197h1v1h-1zM942 263h1v1h-1zM942 328h1v1h-1zM942 394h1v1h-1zM942 459h1v1h-1zM942 525h1v1h-1zM942 590h1v1h-1zM942 656h1v1h-1zM952 132h1v1h-1zM952 197h1v1h-1zM952 263h1v1h-1zM952 328h1v1h-1zM952 394h1v1h-1zM952 459h1v1h-1zM952 525h1v1h-1zM952 590h1v1h-1zM952 656h1v1h-1zM962 132h1v1h-1zM962 197h1v1h-1zM962 263h1v1h-1zM962 328h1v1h-1zM962 394h1v1h-1zM962 459h1v1h-1zM962 525h1v1h-1zM962 590h1v1h-1zM962 656h1v1h-1zM972 132h1v1h-1zM972 197h1v1h-1zM972 263h1v1h-1zM972 328h1v1h-1zM972 394h1v1h-1zM972 459h1v1h-1zM972 525h1v1h-1zM972 590h1v1h-1zM972 656h1v1h-1zM982 132h1v1h-1zM982 197h1v1h-1zM982 263h1v1h-1zM982 328h1v1h-1zM982 394h1v1h-1zM982 459h1v1h-1zM982 525h1v1h-1zM982 590h1v1h-1zM982 656h1v1h-1zM992 132h1v1h-1zM992 197h1v1h-1zM992 263h1v1h-1zM992 328h1v1h-1zM992 394h1v1h-1zM992 459h1v1h-1zM992 525h1v1h-1zM992 590h1v1h-1zM992 656h1v1h-1zM1002 132h1v1h-1zM1002 197h1v1h-1zM1002 263h1v1h-1zM1002 328h1v1h-1zM1002 394h1v1h-1zM1002 459h1v1h-1zM1002 525h1v1h-1zM1002 590h1v1h-1zM1002 656h1v1h-1z" fill="#acacac"/>
<g fill="none" stroke="#000" stroke-width="1">
<rect x="615.5" y="16.5" width="150" height="20"/>
<line x1="615" y1="26.5" x2="766" y2="26.5"/>
<rect x="276.5" y="18.5" width="35" height="27" rx="5.5"/>
<rect x="312.5" y="18.5" width="35" height="27" rx="5.5"/>
<rect x="348.5" y="18.5" width="35" height="27" rx="5.5"/>
</g>
<rect x="241" y="19" width="34" height="26" rx="5" fill="none" stroke="#000" stroke-width="2"/>
<!-- trigger position marker -->
<rect x="512" y="50" width="1" height="16" fill="#000"/>
<path d="M506 59 L512.5 65.5 L512.5 59 Z" fill="#000"/>
<path d="M518.5 59.5 L512.5 65.5" stroke="#000" stroke-width="1" fill="none"/>
<!-- left markers -->
<g fill="#ff0000">
<rect x="1" y="201" width="10" height="1"/><path d="M6 196 L6 201 L11 201 Z"/>
<rect x="2" y="592" width="9" height="1"/><rect x="5" y="594" width="6" height="1"/><rect x="5" y="594" width="1" height="5"/>
<rect x="2" y="598" width="7" height="1"/><rect x="3" y="600" width="5" height="1"/><rect x="4" y="602" width="3" height="1"/>
<path d="M1013 377.5 L1016 374 L1020 374 L1020 381 L1016 381 Z"/>
</g>
<!-- edge icon -->
<g fill="#000">
<rect x="569" y="729" width="9" height="2"/><rect x="569" y="729" width="2" height="14"/><rect x="563" y="741" width="8" height="2"/>
<path d="M566 737 L568 734 L572 734 L574 737 Z"/>
<!-- printer icon -->
<rect x="861" y="740" width="18" height="5"/>
<path d="M866 731 L878 731 L876 740 L864 740 Z"/>
</g>
<rect x="864" y="741" width="11" height="2" fill="#fff"/>
<path d="M12 493h1v4h-1zM13 489h1v6h-1zM14 488h1v3h-1zM15 488h1v3h-1zM16 489h1v4h-1zM17 488h1v5h-1zM18 486h1v4h-1zM19 485h1v3h-1zM20 485h1v4h-1zM21 487h1v4h-1zM22 486h1v4h-1zM23 484h1v4h-1zM24 484h1v2h-1zM25 484h1v4h-1zM26 486h1v4h-1zM27 486h1v3h-1zM28 484h1v4h-1zM29 483h1v3h-1zM30 484h1v4h-1zM31 486h1v4h-1zM32 485h1v5h-1zM33 475h1v12h-1zM34 467h1v10h-1zM35 463h1v6h-1zM36 458h1v7h-1zM37 446h1v14h-1zM38 432h1v16h-1zM39 424h1v10h-1zM40 419h1v7h-1zM41 413h1v8h-1zM42 406h1v9h-1zM43 397h1v11h-1zM44 393h1v6h-1zM45 393h1v2h-1zM46 393h1v2h-1zM47 389h1v6h-1zM48 384h1v7h-1zM49 382h1v4h-1zM50 382h1v4h-1zM51 384h1v4h-1zM52 382h1v5h-1zM53 378h1v5h-1zM54 377h1v4h-1zM55 379h1v4h-1zM56 381h1v3h-1zM57 379h1v5h-1zM58 377h1v4h-1zM59 375h1v4h-1zM60 375h1v5h-1zM61 378h1v5h-1zM62 378h1v5h-1zM63 376h1v4h-1zM64 374h1v4h-1zM65 375h1v4h-1zM66 377h1v5h-1zM67 376h1v7h-1zM68 370h1v8h-1zM69 363h1v9h-1zM70 356h1v9h-1zM71 351h1v7h-1zM72 336h1v17h-1zM73 323h1v15h-1zM74 315h1v10h-1zM75 310h1v7h-1zM76 303h1v9h-1zM77 297h1v8h-1zM78 289h1v10h-1zM79 285h1v6h-1zM80 285h1v2h-1zM81 284h1v3h-1zM82 278h1v8h-1zM83 275h1v5h-1zM84 273h1v4h-1zM85 273h1v4h-1zM86 275h1v3h-1zM87 273h1v5h-1zM88 270h1v5h-1zM89 269h1v3h-1zM90 270h1v4h-1zM91 272h1v3h-1zM92 271h1v4h-1zM93 269h1v4h-1zM94 267h1v4h-1zM95 268h1v3h-1zM96 269h1v4h-1zM97 271h1v3h-1zM98 268h1v5h-1zM99 265h1v4h-1zM100 266h1v4h-1zM101 268h1v4h-1zM102 268h1v5h-1zM103 264h1v6h-1zM104 258h1v8h-1zM105 250h1v10h-1zM106 237h1v15h-1zM107 226h1v13h-1zM108 216h1v12h-1zM109 207h1v11h-1zM110 198h1v11h-1zM111 192h1v8h-1zM112 186h1v8h-1zM113 182h1v6h-1zM114 178h1v6h-1zM115 174h1v6h-1zM116 172h1v4h-1zM117 170h1v4h-1zM118 168h1v4h-1zM119 167h1v3h-1zM120 166h1v3h-1zM121 165h1v3h-1zM122 164h1v3h-1zM123 163h1v3h-1zM124 163h1v2h-1zM125 163h1v2h-1zM126 162h1v3h-1zM127 162h1v2h-1zM128 161h1v3h-1zM129 161h1v2h-1zM130 161h1v2h-1zM131 161h1v2h-1zM132 161h1v2h-1zM133 161h1v2h-1zM134 161h1v2h-1zM135 160h1v2h-1zM136 160h1v2h-1zM137 160h1v2h-1zM138 160h1v2h-1zM139 160h1v2h-1zM140 160h1v2h-1zM141 160h1v2h-1zM142 160h1v2h-1zM143 160h1v2h-1zM144 160h1v2h-1zM145 160h1v2h-1zM146 160h1v2h-1zM147 160h1v2h-1zM148 160h1v2h-1zM149 160h1v2h-1zM150 160h1v2h-1zM151 160h1v2h-1zM152 160h1v2h-1zM153 160h1v2h-1zM154 160h1v2h-1zM155 160h1v2h-1zM156 160h1v2h-1zM157 160h1v2h-1zM158 160h1v2h-1zM159 160h1v2h-1zM160 160h1v2h-1zM161 160h1v2h-1zM162 160h1v2h-1zM163 160h1v2h-1zM164 160h1v2h-1zM165 160h1v2h-1zM166 160h1v2h-1zM167 160h1v2h-1zM168 160h1v2h-1zM169 160h1v2h-1zM170 160h1v2h-1zM171 160h1v2h-1zM172 160h1v2h-1zM173 160h1v2h-1zM174 160h1v2h-1zM175 160h1v2h-1zM176 160h1v2h-1zM177 160h1v2h-1zM178 160h1v2h-1zM179 160h1v2h-1zM180 160h1v2h-1zM181 160h1v2h-1zM182 160h1v2h-1zM183 160h1v2h-1zM184 160h1v2h-1zM185 160h1v2h-1zM186 160h1v2h-1zM187 160h1v2h-1zM188 160h1v2h-1zM189 160h1v2h-1zM190 160h1v2h-1zM191 160h1v2h-1zM192 160h1v2h-1zM193 160h1v2h-1zM194 160h1v8h-1zM195 166h1v13h-1zM196 177h1v15h-1zM197 190h1v13h-1zM198 201h1v7h-1zM199 206h1v12h-1zM200 216h1v13h-1zM201 227h1v9h-1zM202 234h1v9h-1zM203 241h1v6h-1zM204 245h1v6h-1zM205 249h1v6h-1zM206 253h1v7h-1zM207 258h1v2h-1zM208 258h1v2h-1zM209 258h1v3h-1zM210 259h1v5h-1zM211 262h1v5h-1zM212 264h1v3h-1zM213 262h1v4h-1zM214 262h1v4h-1zM215 264h1v4h-1zM216 266h1v4h-1zM217 266h1v3h-1zM218 264h1v4h-1zM219 263h1v3h-1zM220 264h1v4h-1zM221 266h1v4h-1zM222 267h1v4h-1zM223 265h1v4h-1zM224 265h1v3h-1zM225 266h1v4h-1zM226 268h1v4h-1zM227 268h1v3h-1zM228 266h1v4h-1zM229 265h1v3h-1zM230 266h1v4h-1zM231 269h1v3h-1zM232 269h1v2h-1zM233 269h1v2h-1zM234 269h1v8h-1zM235 275h1v14h-1zM236 287h1v16h-1zM237 301h1v10h-1zM238 309h1v10h-1zM239 317h1v13h-1zM240 328h1v12h-1zM241 338h1v9h-1zM242 345h1v6h-1zM243 349h1v3h-1zM244 350h1v5h-1zM245 353h1v11h-1zM246 362h1v6h-1zM247 366h1v3h-1zM248 365h1v4h-1zM249 364h1v4h-1zM250 366h1v6h-1zM251 370h1v6h-1zM252 372h1v4h-1zM253 369h1v5h-1zM254 369h1v5h-1zM255 372h1v6h-1zM256 376h1v3h-1zM257 374h1v4h-1zM258 371h1v5h-1zM259 371h1v4h-1zM260 373h1v6h-1zM261 377h1v4h-1zM262 375h1v5h-1zM263 372h1v5h-1zM264 372h1v4h-1zM265 374h1v5h-1zM266 377h1v4h-1zM267 379h1v3h-1zM268 380h1v2h-1zM269 380h1v8h-1zM270 386h1v12h-1zM271 396h1v14h-1zM272 408h1v11h-1zM273 417h1v10h-1zM274 425h1v11h-1zM275 434h1v14h-1zM276 446h1v9h-1zM277 453h1v6h-1zM278 457h1v6h-1zM279 461h1v7h-1zM280 466h1v7h-1zM281 471h1v5h-1zM282 474h1v2h-1zM283 474h1v2h-1zM284 474h1v3h-1zM285 475h1v6h-1zM286 480h1v3h-1zM287 479h1v3h-1zM288 478h1v3h-1zM289 479h1v4h-1zM290 481h1v5h-1zM291 484h1v3h-1zM292 482h1v4h-1zM293 480h1v4h-1zM294 481h1v4h-1zM295 483h1v4h-1zM296 485h1v3h-1zM297 483h1v4h-1zM298 482h1v3h-1zM299 481h1v4h-1zM300 483h1v4h-1zM301 485h1v4h-1zM302 484h1v4h-1zM303 482h1v4h-1zM304 482h1v3h-1zM305 483h1v3h-1zM306 484h1v5h-1zM307 487h1v5h-1zM308 490h1v6h-1zM309 494h1v7h-1zM310 499h1v12h-1zM311 509h1v12h-1zM312 519h1v10h-1zM313 527h1v10h-1zM314 535h1v10h-1zM315 543h1v10h-1zM316 551h1v9h-1zM317 558h1v7h-1zM318 563h1v7h-1zM319 568h1v6h-1zM320 572h1v6h-1zM321 576h1v5h-1zM322 579h1v4h-1zM323 581h1v4h-1zM324 583h1v4h-1zM325 585h1v4h-1zM326 587h1v3h-1zM327 588h1v2h-1zM328 588h1v3h-1zM329 589h1v3h-1zM330 590h1v2h-1zM331 590h1v3h-1zM332 591h1v2h-1zM333 591h1v2h-1zM334 591h1v3h-1zM335 592h1v2h-1zM336 592h1v2h-1zM337 592h1v2h-1zM338 592h1v2h-1zM339 592h1v2h-1zM340 592h1v3h-1zM341 593h1v2h-1zM342 593h1v2h-1zM343 593h1v2h-1zM344 593h1v2h-1zM345 593h1v2h-1zM346 593h1v2h-1zM347 593h1v2h-1zM348 593h1v2h-1zM349 593h1v2h-1zM350 593h1v2h-1zM351 593h1v2h-1zM352 593h1v2h-1zM353 593h1v2h-1zM354 593h1v2h-1zM355 593h1v2h-1zM356 593h1v2h-1zM357 593h1v2h-1zM358 593h1v2h-1zM359 593h1v2h-1zM360 593h1v2h-1zM361 593h1v2h-1zM362 593h1v2h-1zM363 593h1v2h-1zM364 593h1v2h-1zM365 593h1v2h-1zM366 593h1v2h-1zM367 593h1v2h-1zM368 593h1v2h-1zM369 593h1v2h-1zM370 593h1v2h-1zM371 593h1v2h-1zM372 593h1v2h-1zM373 593h1v2h-1zM374 593h1v2h-1zM375 593h1v2h-1zM376 593h1v2h-1zM377 593h1v2h-1zM378 593h1v2h-1zM379 593h1v2h-1zM380 593h1v2h-1zM381 593h1v2h-1zM382 593h1v2h-1zM383 593h1v2h-1zM384 593h1v2h-1zM385 593h1v2h-1zM386 593h1v2h-1zM387 593h1v2h-1zM388 593h1v2h-1zM389 593h1v2h-1zM390 593h1v2h-1zM391 593h1v2h-1zM392 593h1v2h-1zM393 593h1v2h-1zM394 593h1v2h-1zM395 593h1v2h-1zM396 590h1v5h-1zM397 577h1v15h-1zM398 564h1v15h-1zM399 552h1v14h-1zM400 544h1v10h-1zM401 537h1v9h-1zM402 529h1v10h-1zM403 521h1v10h-1zM404 513h1v10h-1zM405 510h1v5h-1zM406 507h1v5h-1zM407 501h1v8h-1zM408 497h1v6h-1zM409 494h1v5h-1zM410 494h1v3h-1zM411 495h1v3h-1zM412 493h1v4h-1zM413 489h1v6h-1zM414 488h1v3h-1zM415 488h1v3h-1zM416 489h1v4h-1zM417 488h1v5h-1zM418 486h1v4h-1zM419 485h1v3h-1zM420 485h1v4h-1zM421 487h1v4h-1zM422 486h1v4h-1zM423 484h1v4h-1zM424 484h1v2h-1zM425 484h1v4h-1zM426 486h1v4h-1zM427 486h1v3h-1zM428 484h1v4h-1zM429 483h1v3h-1zM430 484h1v4h-1zM431 486h1v4h-1zM432 485h1v5h-1zM433 475h1v12h-1zM434 467h1v10h-1zM435 463h1v6h-1zM436 458h1v7h-1zM437 446h1v14h-1zM438 432h1v16h-1zM439 424h1v10h-1zM440 419h1v7h-1zM441 413h1v8h-1zM442 406h1v9h-1zM443 397h1v11h-1zM444 393h1v6h-1zM445 393h1v2h-1zM446 393h1v2h-1zM447 389h1v6h-1zM448 384h1v7h-1zM449 382h1v4h-1zM450 382h1v4h-1zM451 384h1v4h-1zM452 382h1v5h-1zM453 378h1v5h-1zM454 377h1v4h-1zM455 379h1v4h-1zM456 381h1v3h-1zM457 379h1v5h-1zM458 377h1v4h-1zM459 375h1v4h-1zM460 375h1v5h-1zM461 378h1v5h-1zM462 378h1v5h-1zM463 376h1v4h-1zM464 374h1v4h-1zM465 375h1v4h-1zM466 377h1v5h-1zM467 376h1v7h-1zM468 370h1v8h-1zM469 363h1v9h-1zM470 356h1v9h-1zM471 351h1v7h-1zM472 336h1v17h-1zM473 323h1v15h-1zM474 315h1v10h-1zM475 310h1v7h-1zM476 303h1v9h-1zM477 297h1v8h-1zM478 289h1v10h-1zM479 285h1v6h-1zM480 285h1v2h-1zM481 284h1v3h-1zM482 278h1v8h-1zM483 275h1v5h-1zM484 273h1v4h-1zM485 273h1v4h-1zM486 275h1v3h-1zM487 273h1v5h-1zM488 270h1v5h-1zM489 269h1v3h-1zM490 270h1v4h-1zM491 272h1v3h-1zM492 271h1v4h-1zM493 269h1v4h-1zM494 267h1v4h-1zM495 268h1v3h-1zM496 269h1v4h-1zM497 271h1v3h-1zM498 268h1v5h-1zM499 265h1v4h-1zM500 266h1v4h-1zM501 268h1v4h-1zM502 268h1v5h-1zM503 264h1v6h-1zM504 258h1v8h-1zM505 250h1v10h-1zM506 237h1v15h-1zM507 226h1v13h-1zM508 216h1v12h-1zM509 207h1v11h-1zM510 198h1v11h-1zM511 192h1v8h-1zM512 186h1v8h-1zM513 182h1v6h-1zM514 178h1v6h-1zM515 174h1v6h-1zM516 172h1v4h-1zM517 170h1v4h-1zM518 168h1v4h-1zM519 167h1v3h-1zM520 166h1v3h-1zM521 165h1v3h-1zM522 164h1v3h-1zM523 163h1v3h-1zM524 163h1v2h-1zM525 163h1v2h-1zM526 162h1v3h-1zM527 162h1v2h-1zM528 161h1v3h-1zM529 161h1v2h-1zM530 161h1v2h-1zM531 161h1v2h-1zM532 161h1v2h-1zM533 161h1v2h-1zM534 161h1v2h-1zM535 160h1v2h-1zM536 160h1v2h-1zM537 160h1v2h-1zM538 160h1v2h-1zM539 160h1v2h-1zM540 160h1v2h-1zM541 160h1v2h-1zM542 160h1v2h-1zM543 160h1v2h-1zM544 160h1v2h-1zM545 160h1v2h-1zM546 160h1v2h-1zM547 160h1v2h-1zM548 160h1v2h-1zM549 160h1v2h-1zM550 160h1v2h-1zM551 160h1v2h-1zM552 160h1v2h-1zM553 160h1v2h-1zM554 160h1v2h-1zM555 160h1v2h-1zM556 160h1v2h-1zM557 160h1v2h-1zM558 160h1v2h-1zM559 160h1v2h-1zM560 160h1v2h-1zM561 160h1v2h-1zM562 160h1v2h-1zM563 160h1v2h-1zM564 160h1v2h-1zM565 160h1v2h-1zM566 160h1v2h-1zM567 160h1v2h-1zM568 160h1v2h-1zM569 160h1v2h-1zM570 160h1v2h-1zM571 160h1v2h-1zM572 160h1v2h-1zM573 160h1v2h-1zM574 160h1v2h-1zM575 160h1v2h-1zM576 160h1v2h-1zM577 160h1v2h-1zM578 160h1v2h-1zM579 160h1v2h-1zM580 160h1v2h-1zM581 160h1v2h-1zM582 160h1v2h-1zM583 160h1v2h-1zM584 160h1v2h-1zM585 160h1v2h-1zM586 160h1v2h-1zM587 160h1v2h-1zM588 160h1v2h-1zM589 160h1v2h-1zM590 160h1v2h-1zM591 160h1v2h-1zM592 160h1v2h-1zM593 160h1v2h-1zM594 160h1v8h-1zM595 166h1v13h-1zM596 177h1v15h-1zM597 190h1v13h-1zM598 201h1v7h-1zM599 206h1v12h-1zM600 216h1v13h-1zM601 227h1v9h-1zM602 234h1v9h-1zM603 241h1v6h-1zM604 245h1v6h-1zM605 249h1v6h-1zM606 253h1v7h-1zM607 258h1v2h-1zM608 258h1v2h-1zM609 258h1v3h-1zM610 259h1v5h-1zM611 262h1v5h-1zM612 264h1v3h-1zM613 262h1v4h-1zM614 262h1v4h-1zM615 264h1v4h-1zM616 266h1v4h-1zM617 266h1v3h-1zM618 264h1v4h-1zM619 263h1v3h-1zM620 264h1v4h-1zM621 266h1v4h-1zM622 267h1v4h-1zM623 265h1v4h-1zM624 265h1v3h-1zM625 266h1v4h-1zM626 268h1v4h-1zM627 268h1v3h-1zM628 266h1v4h-1zM629 265h1v3h-1zM630 266h1v4h-1zM631 269h1v3h-1zM632 269h1v2h-1zM633 269h1v2h-1zM634 269h1v8h-1zM635 275h1v14h-1zM636 287h1v16h-1zM637 301h1v10h-1zM638 309h1v10h-1zM639 317h1v13h-1zM640 328h1v12h-1zM641 338h1v9h-1zM642 345h1v6h-1zM643 349h1v3h-1zM644 350h1v5h-1zM645 353h1v11h-1zM646 362h1v6h-1zM647 366h1v3h-1zM648 365h1v4h-1zM649 364h1v4h-1zM650 366h1v6h-1zM651 370h1v6h-1zM652 372h1v4h-1zM653 369h1v5h-1zM654 369h1v5h-1zM655 372h1v6h-1zM656 376h1v3h-1zM657 374h1v4h-1zM658 371h1v5h-1zM659 371h1v4h-1zM660 373h1v6h-1zM661 377h1v4h-1zM662 375h1v5h-1zM663 372h1v5h-1zM664 372h1v4h-1zM665 374h1v5h-1zM666 377h1v4h-1zM667 379h1v3h-1zM668 380h1v2h-1zM669 380h1v8h-1zM670 386h1v12h-1zM671 396h1v14h-1zM672 408h1v11h-1zM673 417h1v10h-1zM674 425h1v11h-1zM675 434h1v14h-1zM676 446h1v9h-1zM677 453h1v6h-1zM678 457h1v6h-1zM679 461h1v7h-1zM680 466h1v7h-1zM681 471h1v5h-1zM682 474h1v2h-1zM683 474h1v2h-1zM684 474h1v3h-1zM685 475h1v6h-1zM686 480h1v3h-1zM687 479h1v3h-1zM688 478h1v3h-1zM689 479h1v4h-1zM690 481h1v5h-1zM691 484h1v3h-1zM692 482h1v4h-1zM693 480h1v4h-1zM694 481h1v4h-1zM695 483h1v4h-1zM696 485h1v3h-1zM697 483h1v4h-1zM698 482h1v3h-1zM699 481h1v4h-1zM700 483h1v4h-1zM701 485h1v4h-1zM702 484h1v4h-1zM703 482h1v4h-1zM704 482h1v3h-1zM705 483h1v3h-1zM706 484h1v5h-1zM707 487h1v5h-1zM708 490h1v6h-1zM709 494h1v7h-1zM710 499h1v12h-1zM711 509h1v12h-1zM712 519h1v10h-1zM713 527h1v10h-1zM714 535h1v10h-1zM715 543h1v10h-1zM716 551h1v9h-1zM717 558h1v7h-1zM718 563h1v7h-1zM719 568h1v6h-1zM720 572h1v6h-1zM721 576h1v5h-1zM722 579h1v4h-1zM723 581h1v4h-1zM724 583h1v4h-1zM725 585h1v4h-1zM726 587h1v3h-1zM727 588h1v2h-1zM728 588h1v3h-1zM729 589h1v3h-1zM730 590h1v2h-1zM731 590h1v3h-1zM732 591h1v2h-1zM733 591h1v2h-1zM734 591h1v3h-1zM735 592h1v2h-1zM736 592h1v2h-1zM737 592h1v2h-1zM738 592h1v2h-1zM739 592h1v2h-1zM740 592h1v3h-1zM741 593h1v2h-1zM742 593h1v2h-1zM743 593h1v2h-1zM744 593h1v2h-1zM745 593h1v2h-1zM746 593h1v2h-1zM747 593h1v2h-1zM748 593h1v2h-1zM749 593h1v2h-1zM750 593h1v2h-1zM751 593h1v2h-1zM752 593h1v2h-1zM753 593h1v2h-1zM754 593h1v2h-1zM755 593h1v2h-1zM756 593h1v2h-1zM757 593h1v2h-1zM758 593h1v2h-1zM759 593h1v2h-1zM760 593h1v2h-1zM761 593h1v2h-1zM762 593h1v2h-1zM763 593h1v2h-1zM764 593h1v2h-1zM765 593h1v2h-1zM766 593h1v2h-1zM767 593h1v2h-1zM768 593h1v2h-1zM769 593h1v2h-1zM770 593h1v2h-1zM771 593h1v2h-1zM772 593h1v2h-1zM773 593h1v2h-1zM774 593h1v2h-1zM775 593h1v2h-1zM776 593h1v2h-1zM777 593h1v2h-1zM778 593h1v2h-1zM779 593h1v2h-1zM780 593h1v2h-1zM781 593h1v2h-1zM782 593h1v2h-1zM783 593h1v2h-1zM784 593h1v2h-1zM785 593h1v2h-1zM786 593h1v2h-1zM787 593h1v2h-1zM788 593h1v2h-1zM789 593h1v2h-1zM790 593h1v2h-1zM791 593h1v2h-1zM792 593h1v2h-1zM793 593h1v2h-1zM794 593h1v2h-1zM795 593h1v2h-1zM796 590h1v5h-1zM797 577h1v15h-1zM798 564h1v15h-1zM799 552h1v14h-1zM800 544h1v10h-1zM801 537h1v9h-1zM802 529h1v10h-1zM803 521h1v10h-1zM804 513h1v10h-1zM805 510h1v5h-1zM806 507h1v5h-1zM807 501h1v8h-1zM808 497h1v6h-1zM809 494h1v5h-1zM810 494h1v3h-1zM811 495h1v3h-1zM812 493h1v4h-1zM813 489h1v6h-1zM814 488h1v3h-1zM815 488h1v3h-1zM816 489h1v4h-1zM817 488h1v5h-1zM818 486h1v4h-1zM819 485h1v3h-1zM820 485h1v4h-1zM821 487h1v4h-1zM822 486h1v4h-1zM823 484h1v4h-1zM824 484h1v2h-1zM825 484h1v4h-1zM826 486h1v4h-1zM827 486h1v3h-1zM828 484h1v4h-1zM829 483h1v3h-1zM830 484h1v4h-1zM831 486h1v4h-1zM832 485h1v5h-1zM833 475h1v12h-1zM834 467h1v10h-1zM835 463h1v6h-1zM836 458h1v7h-1zM837 446h1v14h-1zM838 432h1v16h-1zM839 424h1v10h-1zM840 419h1v7h-1zM841 413h1v8h-1zM842 406h1v9h-1zM843 397h1v11h-1zM844 393h1v6h-1zM845 393h1v2h-1zM846 393h1v2h-1zM847 389h1v6h-1zM848 384h1v7h-1zM849 382h1v4h-1zM850 382h1v4h-1zM851 384h1v4h-1zM852 382h1v5h-1zM853 378h1v5h-1zM854 377h1v4h-1zM855 379h1v4h-1zM856 381h1v3h-1zM857 379h1v5h-1zM858 377h1v4h-1zM859 375h1v4h-1zM860 375h1v5h-1zM861 378h1v5h-1zM862 378h1v5h-1zM863 376h1v4h-1zM864 374h1v4h-1zM865 375h1v4h-1zM866 377h1v5h-1zM867 376h1v7h-1zM868 370h1v8h-1zM869 363h1v9h-1zM870 356h1v9h-1zM871 351h1v7h-1zM872 336h1v17h-1zM873 323h1v15h-1zM874 315h1v10h-1zM875 310h1v7h-1zM876 303h1v9h-1zM877 297h1v8h-1zM878 289h1v10h-1zM879 285h1v6h-1zM880 285h1v2h-1zM881 284h1v2h-1zM882 278h1v8h-1zM883 275h1v5h-1zM884 273h1v4h-1zM885 273h1v4h-1zM886 275h1v3h-1zM887 273h1v5h-1zM888 270h1v5h-1zM889 269h1v3h-1zM890 270h1v4h-1zM891 272h1v3h-1zM892 271h1v4h-1zM893 269h1v4h-1zM894 267h1v4h-1zM895 268h1v3h-1zM896 269h1v4h-1zM897 271h1v3h-1zM898 268h1v5h-1zM899 265h1v4h-1zM900 266h1v4h-1zM901 268h1v4h-1zM902 268h1v5h-1zM903 264h1v6h-1zM904 258h1v8h-1zM905 250h1v10h-1zM906 237h1v15h-1zM907 226h1v13h-1zM908 216h1v12h-1zM909 207h1v11h-1zM910 198h1v11h-1zM911 192h1v8h-1zM912 186h1v8h-1zM913 182h1v6h-1zM914 178h1v6h-1zM915 174h1v6h-1zM916 172h1v4h-1zM917 170h1v4h-1zM918 168h1v4h-1zM919 167h1v3h-1zM920 166h1v3h-1zM921 165h1v3h-1zM922 164h1v3h-1zM923 163h1v3h-1zM924 163h1v2h-1zM925 163h1v2h-1zM926 162h1v3h-1zM927 162h1v2h-1zM928 161h1v3h-1zM929 161h1v2h-1zM930 161h1v2h-1zM931 161h1v2h-1zM932 161h1v2h-1zM933 161h1v2h-1zM934 161h1v2h-1zM935 160h1v2h-1zM936 160h1v2h-1zM937 160h1v2h-1zM938 160h1v2h-1zM939 160h1v2h-1zM940 160h1v2h-1zM941 160h1v2h-1zM942 160h1v2h-1zM943 160h1v2h-1zM944 160h1v2h-1zM945 160h1v2h-1zM946 160h1v2h-1zM947 160h1v2h-1zM948 160h1v2h-1zM949 160h1v2h-1zM950 160h1v2h-1zM951 160h1v2h-1zM952 160h1v2h-1zM953 160h1v2h-1zM954 160h1v2h-1zM955 160h1v2h-1zM956 160h1v2h-1zM957 160h1v2h-1zM958 160h1v2h-1zM959 160h1v2h-1zM960 160h1v2h-1zM961 160h1v2h-1zM962 160h1v2h-1zM963 160h1v2h-1zM964 160h1v2h-1zM965 160h1v2h-1zM966 160h1v2h-1zM967 160h1v2h-1zM968 160h1v2h-1zM969 160h1v2h-1zM970 160h1v2h-1zM971 160h1v2h-1zM972 160h1v2h-1zM973 160h1v2h-1zM974 160h1v2h-1zM975 160h1v2h-1zM976 160h1v2h-1zM977 160h1v2h-1zM978 160h1v2h-1zM979 160h1v2h-1zM980 160h1v2h-1zM981 160h1v2h-1zM982 160h1v2h-1zM983 160h1v2h-1zM984 160h1v2h-1zM985 160h1v2h-1zM986 160h1v2h-1zM987 160h1v2h-1zM988 160h1v2h-1zM989 160h1v2h-1zM990 160h1v2h-1zM991 160h1v2h-1zM992 160h1v2h-1zM993 160h1v2h-1zM994 160h1v8h-1zM995 166h1v13h-1zM996 177h1v15h-1zM997 190h1v13h-1zM998 201h1v7h-1zM999 206h1v12h-1zM1000 216h1v13h-1zM1001 227h1v9h-1zM1002 234h1v9h-1zM1003 241h1v6h-1zM1004 245h1v6h-1zM1005 249h1v6h-1zM1006 253h1v7h-1zM1007 258h1v2h-1zM1008 258h1v2h-1zM1009 258h1v3h-1zM1010 259h1v5h-1zM1011 262h1v5h-1zM1012 264h1v3h-1zM152 159h1v1h-1zM156 159h1v1h-1zM159 159h1v1h-1zM163 159h1v1h-1zM164 159h1v1h-1zM165 159h1v1h-1zM166 159h1v1h-1zM168 159h1v1h-1zM170 159h1v1h-1zM174 159h1v1h-1zM176 159h1v1h-1zM180 159h1v1h-1zM181 159h1v1h-1zM182 159h1v1h-1zM183 159h1v1h-1zM184 159h1v1h-1zM185 159h1v1h-1zM187 159h1v1h-1zM189 159h1v1h-1zM190 159h1v1h-1zM192 159h1v1h-1zM355 595h1v1h-1zM362 595h1v1h-1zM368 595h1v1h-1zM372 595h1v1h-1zM380 595h1v1h-1zM389 595h1v1h-1zM391 595h1v1h-1zM393 595h1v1h-1zM395 595h1v1h-1zM552 159h1v1h-1zM556 159h1v1h-1zM559 159h1v1h-1zM563 159h1v1h-1zM564 159h1v1h-1zM565 159h1v1h-1zM566 159h1v1h-1zM568 159h1v1h-1zM570 159h1v1h-1zM574 159h1v1h-1zM576 159h1v1h-1zM580 159h1v1h-1zM581 159h1v1h-1zM582 159h1v1h-1zM583 159h1v1h-1zM584 159h1v1h-1zM585 159h1v1h-1zM587 159h1v1h-1zM589 159h1v1h-1zM590 159h1v1h-1zM592 159h1v1h-1zM755 595h1v1h-1zM762 595h1v1h-1zM768 595h1v1h-1zM772 595h1v1h-1zM780 595h1v1h-1zM789 595h1v1h-1zM791 595h1v1h-1zM793 595h1v1h-1zM795 595h1v1h-1zM952 159h1v1h-1zM956 159h1v1h-1zM959 159h1v1h-1zM963 159h1v1h-1zM964 159h1v1h-1zM965 159h1v1h-1zM966 159h1v1h-1zM968 159h1v1h-1zM970 159h1v1h-1zM974 159h1v1h-1zM976 159h1v1h-1zM980 159h1v1h-1zM981 159h1v1h-1zM982 159h1v1h-1zM983 159h1v1h-1zM984 159h1v1h-1zM985 159h1v1h-1zM987 159h1v1h-1zM989 159h1v1h-1zM990 159h1v1h-1zM992 159h1v1h-1z" fill="#ff0000"/>
</svg>
<div class="b" style="left:9px;top:14px;color:#000;">CH1</div>
<div class="b" style="left:81px;top:14px;color:#000;">:</div>
<div class="b" style="left:99px;top:14px;color:#000;">0.500V/div</div>
<div class="b" style="left:9px;top:30px;color:#000;">Position</div>
<div class="b" style="left:81px;top:30px;color:#000;">:</div>
<div class="b" style="left:99px;top:30px;color:#000;">-3.05 div</div>
<div class="b" style="left:259px;top:0px;color:#000;">Display Group</div>
<div class="b" style="left:253.0px;top:22px;color:#00186b;">1</div>
<div class="b" style="left:289.0px;top:22px;color:#00186b;">2</div>
<div class="b" style="left:325.0px;top:22px;color:#00186b;">3</div>
<div class="b" style="left:361.0px;top:22px;color:#00186b;">4</div>
<div class="b" style="left:830px;top:-2px;color:#000;">AcqMode : Normal</div>
<div class="b" style="left:830px;top:14px;color:#000;">10MS/s    5ms/div</div>
<div class="b" style="left:14px;top:702px;color:#000;">P-P</div>
<div class="b" style="left:62px;top:702px;color:#000;">:CH1</div>
<div class="b" style="left:150px;top:702px;color:#000;">3.318V</div>
<div class="b" style="left:264px;top:702px;color:#000;">Max</div>
<div class="b" style="left:312px;top:702px;color:#000;">:CH1</div>
<div class="b" style="left:400px;top:702px;color:#000;">3.317V</div>
<div class="b" style="left:514px;top:702px;color:#000;">Min</div>
<div class="b" style="left:562px;top:702px;color:#000;">:CH1</div>
<div class="b" style="left:641px;top:702px;color:#000;">-0.002V</div>
<div class="b" style="left:763px;top:702px;color:#000;">Freq</div>
<div class="b" style="left:812px;top:702px;color:#000;">:CH1</div>
<div class="b" style="left:900px;top:702px;color:#000;">50.00850Hz</div>
<div class="b" style="left:9px;top:728px;color:#000;">Stopped</div>
<div class="b" style="left:169px;top:728px;color:#000;">376</div>
<div class="b" style="left:169px;top:748px;color:#000;">22 Apr 2018 22:34:35.74209914</div>
<div class="b" style="left:449px;top:728px;color:#000;">Edge</div>
<div class="b" style="left:449px;top:748px;color:#000;">Auto</div>
<div class="b" style="left:529px;top:728px;color:#000;">CH1</div>
<div class="b" style="left:529px;top:748px;color:#000;">3.000V</div>
<div class="b" style="left:879px;top:728px;color:#000;">:File</div>
<div class="b" style="left:859px;top:748px;color:#000;">22 Apr 2018 22:34:39</div>
<div class="s" style="left:625px;top:37px;color:#000;">Main:500.0k</div>
<div class="s" style="left:13px;top:66px;color:#cc0000;">CH1</div>
<div class="s" style="left:110px;top:66px;color:#cc0000;">4.025V</div>
<div class="s" style="left:494px;top:70px;color:#000;">&lt;Main&gt;</div>
<div class="s" style="left:13px;top:710px;color:#000;">-25000.0us</div>
<div class="s" style="left:103px;top:711px;color:#cc0000;">-0.975V</div>
<div class="s" style="left:956px;top:711px;color:#000;">25000.0us</div>
<div class="t" style="left:505.5px;top:49.5px;color:#000">T</div>
<div class="t" style="left:0.5px;top:191.5px;color:#ff0000">T</div>
</body></html>
